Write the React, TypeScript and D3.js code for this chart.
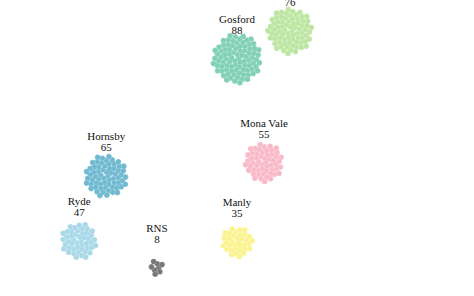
import React, { useMemo } from "react";
import * as d3 from "d3";

// Hospitals, number of cases at each, and their fill colours
const names = ["Gosford", "Wyong", "Hornsby", "Mona Vale", "Ryde", "Manly", "RNS"];
const counts = [88, 76, 65, 55, 47, 35, 8];
const colors = ["#80d0b5", "#bce6a1", "#6fb9d1", "#f9b9c9", "#a9d9e9", "#fbf390", "#777777"];
// Cluster centres on a normalised 0..1 layout
const posX = [0.5, 0.612, 0.224, 0.557, 0.167, 0.5, 0.331];
const posY = [0.198, 0.105, 0.595, 0.549, 0.814, 0.818, 0.905];

const W = 474;
const H = 296;
const DOT_R = 2.8;
const SPACING = 2.6;
const GOLDEN = Math.PI * (3 - Math.sqrt(5));
// Labels sit a fixed distance above each cluster centre
const VALUE_OFFSET = 25;
const NAME_OFFSET = 36;

export default function App() {
  const x = d3.scaleLinear().domain([0, 1]).range([0, W]);
  const y = d3.scaleLinear().domain([0, 1]).range([0, H]);

  const clusters = useMemo(
    () =>
      names.map((name, i) => {
        const n = counts[i];
        const dots = d3.range(n).map((k) => {
          const r = SPACING * Math.sqrt(k + 0.5);
          const a = k * GOLDEN;
          return { dx: r * Math.cos(a), dy: r * Math.sin(a) };
        });
        return { name, n, color: colors[i], cx: x(posX[i]), cy: y(posY[i]), dots };
      }),
    []
  );

  return (
    <svg
      width={W}
      height={H}
      style={{ position: "absolute", left: 0, top: 0, background: "#fff" }}
    >
      {clusters.map((c) => (
        <g key={c.name} transform={`translate(${c.cx},${c.cy})`}>
          {c.dots.map((d, k) => (
            <circle
              key={k}
              cx={d.dx}
              cy={d.dy}
              r={DOT_R}
              fill={c.color}
              stroke="#ffffff"
              strokeOpacity={0.35}
              strokeWidth={0.5}
            />
          ))}
          <text
            y={-VALUE_OFFSET}
            textAnchor="middle"
            fontFamily="'Liberation Serif', serif"
            fontSize={11}
            fill="#111"
          >
            {c.n}
          </text>
          <text
            y={-NAME_OFFSET}
            textAnchor="middle"
            fontFamily="'Liberation Serif', serif"
            fontSize={11}
            fill="#111"
          >
            {c.name}
          </text>
        </g>
      ))}
    </svg>
  );
}
